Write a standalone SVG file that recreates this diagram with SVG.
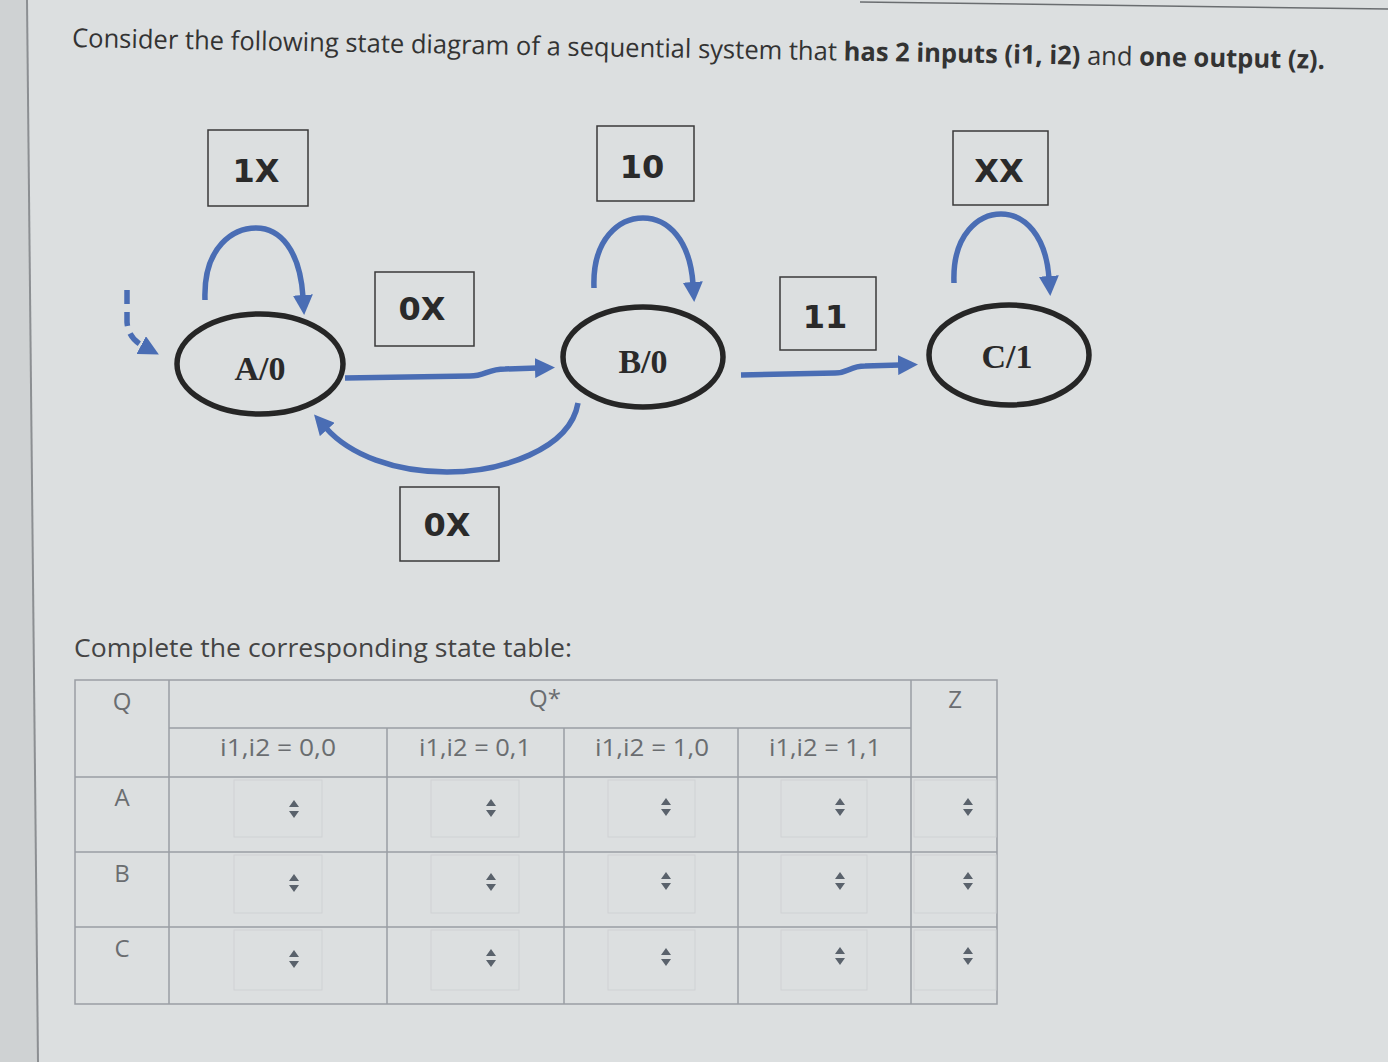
<svg xmlns="http://www.w3.org/2000/svg" width="1388" height="1062" viewBox="0 0 1388 1062">
<style>
.state{fill:none;stroke:#262626;stroke-width:5.5}
.slabel{font-family:"Liberation Serif",serif;font-weight:bold;font-size:34px;fill:#2a2a2a;text-anchor:middle}
.lbox{fill:none;stroke:#3a3a3a;stroke-width:1.5}
.ltext{font-family:"DejaVu Sans",sans-serif;font-weight:bold;font-size:32px;fill:#2a2a2a;text-anchor:middle}
.edge{fill:none;stroke:#4a6db4;stroke-width:5.5}
.grid{stroke:#9a9ea4;stroke-width:1.5;fill:none}
.sel{fill:none;stroke:#cfd2d4;stroke-width:1}
.th{font-family:"Open Sans",sans-serif;font-size:24px;fill:#6a6d70;text-anchor:middle}
.ico{fill:#5a626c}
</style>
<defs>
<marker id="ah" markerUnits="userSpaceOnUse" markerWidth="20" markerHeight="20" viewBox="0 0 20 20" refX="2" refY="10" orient="auto">
<path d="M0,0 L20,10 L0,20 z" fill="#4a6db4"/>
</marker>
<g id="spin">
<path d="M-5,-2 L0,-9 L5,-2 z M-5,2 L0,9 L5,2 z" class="ico"/>
</g>
</defs>
<rect width="1388" height="1062" fill="#dcdfe0"/>
<polygon points="0,0 27,0 38,1062 0,1062" fill="#cfd2d3"/>
<line x1="27" y1="0" x2="38" y2="1062" stroke="#8c8f92" stroke-width="2"/>
<line x1="860" y1="2" x2="1388" y2="9" stroke="#6a6d70" stroke-width="1.5"/>

<text x="72" y="47" transform="rotate(1 72 47)" font-family="'Open Sans',sans-serif" font-size="26" fill="#333" textLength="1253" lengthAdjust="spacingAndGlyphs">Consider the following state diagram of a sequential system that <tspan font-weight="bold">has 2 inputs (i1, i2)</tspan> and <tspan font-weight="bold">one output (z).</tspan></text>

<g id="connectors">
<path id="e-init" class="edge" stroke-dasharray="14 8" d="M127,290 L127,322 Q128,338 143,346" marker-end="url(#ah)"/>
<path id="e-AA" class="edge" d="M205,300 C203,245 235,228 256,228 C280,228 300,250 303,297" marker-end="url(#ah)"/>
<path id="e-AB" class="edge" d="M345,378 L470,376 C485,376 488,369 505,369 L537,368" marker-end="url(#ah)"/>
<path id="e-BA" class="edge" d="M578,403 C570,450 500,472 447,472 C395,472 350,455 326,428" marker-end="url(#ah)"/>
<path id="e-BB" class="edge" d="M594,288 C592,238 620,218 643,218 C668,218 690,240 693,284" marker-end="url(#ah)"/>
<path id="e-BC" class="edge" d="M741,375 L835,373 C848,373 850,366 865,366 L900,365" marker-end="url(#ah)"/>
<path id="e-CC" class="edge" d="M954,283 C952,233 980,214 1001,214 C1025,214 1046,236 1049,278" marker-end="url(#ah)"/>
</g>

<g id="node-A">
<ellipse class="state" cx="260" cy="364" rx="83" ry="50"/>
<text class="slabel" x="260" y="380">A/0</text>
</g>
<g id="node-B">
<ellipse class="state" cx="643" cy="357" rx="80" ry="50"/>
<text class="slabel" x="643" y="373">B/0</text>
</g>
<g id="node-C">
<ellipse class="state" cx="1009" cy="355" rx="80" ry="50"/>
<text class="slabel" x="1007" y="368">C/1</text>
</g>

<g id="label-1X"><rect class="lbox" x="208" y="130" width="100" height="76"/><text class="ltext" x="256" y="182">1X</text></g>
<g id="label-0X-top"><rect class="lbox" x="375" y="272" width="99" height="74"/><text class="ltext" x="422" y="320">0X</text></g>
<g id="label-10"><rect class="lbox" x="597" y="126" width="97" height="75"/><text class="ltext" x="642" y="178">10</text></g>
<g id="label-XX"><rect class="lbox" x="953" y="131" width="95" height="74"/><text class="ltext" x="999" y="182">XX</text></g>
<g id="label-11"><rect class="lbox" x="780" y="277" width="96" height="73"/><text class="ltext" x="825" y="328">11</text></g>
<g id="label-0X-bot"><rect class="lbox" x="400" y="487" width="99" height="74"/><text class="ltext" x="447" y="536">0X</text></g>

<text x="74" y="657" font-family="'Open Sans',sans-serif" font-size="26" fill="#444" textLength="498" lengthAdjust="spacingAndGlyphs">Complete the corresponding state table:</text>

<g id="state-table">
<rect x="75" y="680" width="922" height="324" fill="#e1e3e4" class="grid"/>
<line class="grid" x1="169" y1="680" x2="169" y2="1004"/>
<line class="grid" x1="911" y1="680" x2="911" y2="1004"/>
<line class="grid" x1="169" y1="728" x2="911" y2="728"/>
<line class="grid" x1="387" y1="728" x2="387" y2="1004"/>
<line class="grid" x1="564" y1="728" x2="564" y2="1004"/>
<line class="grid" x1="738" y1="728" x2="738" y2="1004"/>
<line class="grid" x1="75" y1="777" x2="997" y2="777"/>
<line class="grid" x1="75" y1="852" x2="997" y2="852"/>
<line class="grid" x1="75" y1="927" x2="997" y2="927"/>

<text class="th" x="122" y="710">Q</text>
<text class="th" x="545" y="707">Q*</text>
<text class="th" x="955" y="708">Z</text>
<text class="th" x="278" y="756" textLength="116" lengthAdjust="spacingAndGlyphs">i1,i2 = 0,0</text>
<text class="th" x="475" y="756" textLength="112" lengthAdjust="spacingAndGlyphs">i1,i2 = 0,1</text>
<text class="th" x="652" y="756" textLength="114" lengthAdjust="spacingAndGlyphs">i1,i2 = 1,0</text>
<text class="th" x="825" y="756" textLength="112" lengthAdjust="spacingAndGlyphs">i1,i2 = 1,1</text>
<text class="th" x="122" y="806">A</text>
<text class="th" x="122" y="882">B</text>
<text class="th" x="122" y="957">C</text>

<g id="selects">
<rect class="sel" x="234" y="780" width="88" height="57"/>
<rect class="sel" x="431" y="780" width="88" height="57"/>
<rect class="sel" x="608" y="780" width="87" height="57"/>
<rect class="sel" x="781" y="780" width="86" height="57"/>
<rect class="sel" x="914" y="780" width="82" height="57"/>
<rect class="sel" x="234" y="855" width="88" height="58"/>
<rect class="sel" x="431" y="855" width="88" height="58"/>
<rect class="sel" x="608" y="855" width="87" height="58"/>
<rect class="sel" x="781" y="855" width="86" height="58"/>
<rect class="sel" x="914" y="855" width="82" height="58"/>
<rect class="sel" x="234" y="930" width="88" height="60"/>
<rect class="sel" x="431" y="930" width="88" height="60"/>
<rect class="sel" x="608" y="930" width="87" height="60"/>
<rect class="sel" x="781" y="930" width="86" height="60"/>
<rect class="sel" x="914" y="930" width="82" height="60"/>
<use href="#spin" x="294" y="809"/>
<use href="#spin" x="491" y="808"/>
<use href="#spin" x="666" y="807"/>
<use href="#spin" x="840" y="807"/>
<use href="#spin" x="968" y="807"/>
<use href="#spin" x="294" y="883"/>
<use href="#spin" x="491" y="882"/>
<use href="#spin" x="666" y="881"/>
<use href="#spin" x="840" y="881"/>
<use href="#spin" x="968" y="881"/>
<use href="#spin" x="294" y="959"/>
<use href="#spin" x="491" y="958"/>
<use href="#spin" x="666" y="957"/>
<use href="#spin" x="840" y="956"/>
<use href="#spin" x="968" y="956"/>
</g>
</g>
</svg>
